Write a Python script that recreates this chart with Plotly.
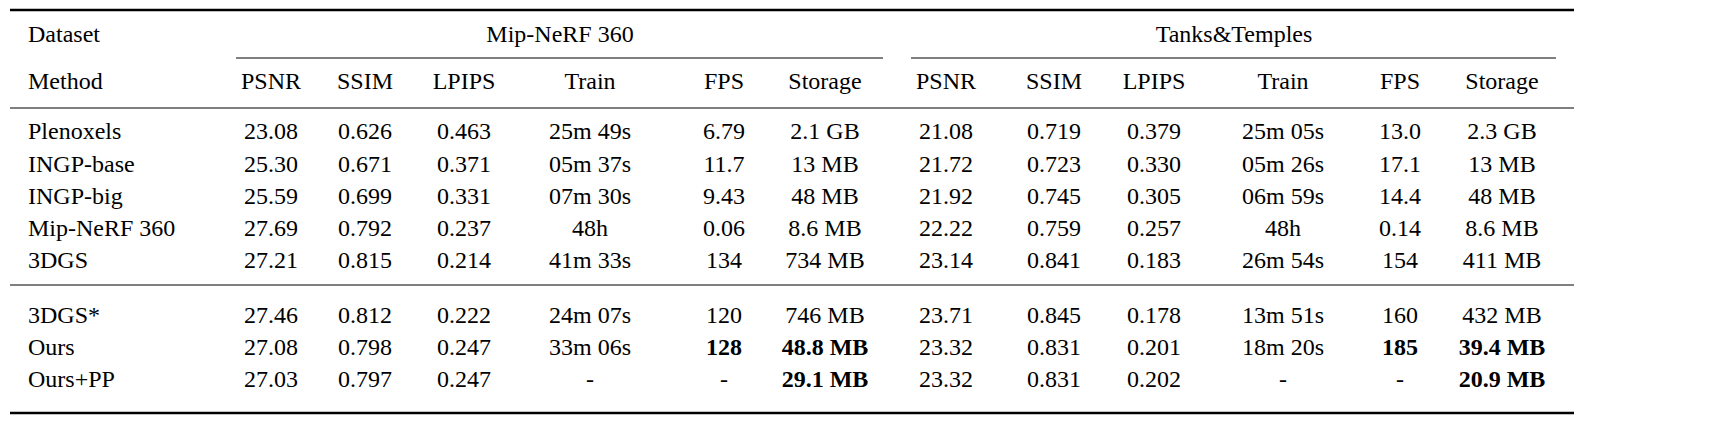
import plotly.graph_objects as go

methods = ["Plenoxels", "INGP-base", "INGP-big", "Mip-NeRF 360", "3DGS", "3DGS*", "Ours", "Ours+PP"]
metrics = ["PSNR", "SSIM", "LPIPS", "Train", "FPS", "Storage"]
datasets = ["Mip-NeRF 360", "Tanks&Temples"]
mip = [
    ["23.08", "0.626", "0.463", "25m 49s", "6.79", "2.1 GB"],
    ["25.30", "0.671", "0.371", "05m 37s", "11.7", "13 MB"],
    ["25.59", "0.699", "0.331", "07m 30s", "9.43", "48 MB"],
    ["27.69", "0.792", "0.237", "48h", "0.06", "8.6 MB"],
    ["27.21", "0.815", "0.214", "41m 33s", "134", "734 MB"],
    ["27.46", "0.812", "0.222", "24m 07s", "120", "746 MB"],
    ["27.08", "0.798", "0.247", "33m 06s", "<b>128</b>", "<b>48.8 MB</b>"],
    ["27.03", "0.797", "0.247", "-", "-", "<b>29.1 MB</b>"],
]
tnt = [
    ["21.08", "0.719", "0.379", "25m 05s", "13.0", "2.3 GB"],
    ["21.72", "0.723", "0.330", "05m 26s", "17.1", "13 MB"],
    ["21.92", "0.745", "0.305", "06m 59s", "14.4", "48 MB"],
    ["22.22", "0.759", "0.257", "48h", "0.14", "8.6 MB"],
    ["23.14", "0.841", "0.183", "26m 54s", "154", "411 MB"],
    ["23.71", "0.845", "0.178", "13m 51s", "160", "432 MB"],
    ["23.32", "0.831", "0.201", "18m 20s", "<b>185</b>", "<b>39.4 MB</b>"],
    ["23.32", "0.831", "0.202", "-", "-", "<b>20.9 MB</b>"],
]

col_x = [263, 357, 456, 582, 716, 817, 938, 1046, 1146, 1275, 1392, 1494]
row_y = [125, 158, 190, 222, 254, 309, 341, 373]
FONT = dict(family="'Liberation Serif', 'Times New Roman', 'DejaVu Serif', serif", size=24, color="black")

fig = go.Figure()
fig.add_trace(go.Scatter(x=[20] * len(methods), y=row_y, text=methods, mode="text",
                         textposition="middle right", textfont=FONT, hoverinfo="skip"))
for c in range(12):
    src = mip if c < 6 else tnt
    vals = [r[c % 6] for r in src]
    fig.add_trace(go.Scatter(x=[col_x[c]] * len(vals), y=row_y, text=vals, mode="text",
                             textposition="middle center", textfont=FONT, hoverinfo="skip"))
fig.add_trace(go.Scatter(x=col_x, y=[75] * 12, text=metrics * 2, mode="text",
                         textposition="middle center", textfont=FONT, hoverinfo="skip"))
fig.add_trace(go.Scatter(x=[20, 20], y=[28, 75], text=["Dataset", "Method"], mode="text",
                         textposition="middle right", textfont=FONT, hoverinfo="skip"))
fig.add_trace(go.Scatter(x=[552, 1226], y=[28, 28], text=datasets, mode="text",
                         textposition="middle center", textfont=FONT, hoverinfo="skip"))

def hline(y, x0, x1, w):
    fig.add_shape(type="line", x0=x0, x1=x1, y0=y, y1=y, line=dict(color="black", width=w))

hline(2, 2, 1566, 2.5)
hline(50, 228, 875, 1)
hline(50, 903, 1548, 1)
hline(100, 2, 1566, 1.2)
hline(277, 2, 1566, 1.2)
hline(405, 2, 1566, 2.5)

fig.update_layout(width=1717, height=447, margin=dict(l=0, r=0, t=0, b=0),
                  plot_bgcolor="white", paper_bgcolor="white", showlegend=False,
                  font=dict(family="'Liberation Serif', serif"),
                  xaxis=dict(range=[0, 1717], visible=False, fixedrange=True),
                  yaxis=dict(range=[447, 0], visible=False, fixedrange=True))
fig.write_html("out.html")
